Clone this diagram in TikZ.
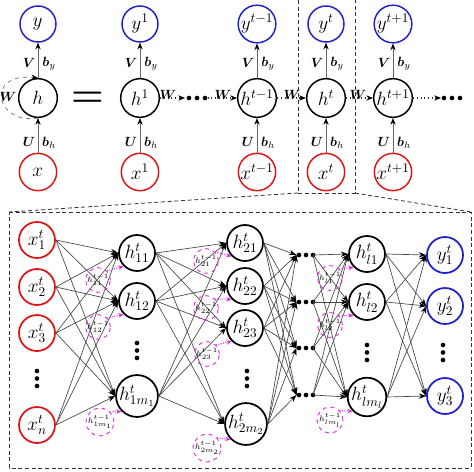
\documentclass[tikz,border=0pt]{standalone}
\usepackage{amsmath,amssymb}
\usetikzlibrary{arrows.meta}
\definecolor{myblue}{RGB}{30,30,210}
\definecolor{myred}{RGB}{225,20,20}
\definecolor{mymag}{RGB}{225,50,225}
\definecolor{lgray}{RGB}{70,70,70}
\tikzset{
 tnode/.style={circle,line width=1.1pt,minimum size=28pt,inner sep=0pt,font=\fontsize{14}{16}\selectfont},
 tblue/.style={tnode,draw=myblue,minimum size=27pt},
 tred/.style={tnode,draw=myred},
 tblack/.style={tnode,draw=black,minimum size=29pt},
 vup/.style={draw=gray!80!black,line width=0.6pt,-{Stealth[length=5pt,width=4pt,black]}},
 lab/.style={font=\fontsize{10}{12}\selectfont,inner sep=0pt},
 warr/.style={draw=black!80,dotted,line width=0.8pt,-{Stealth[length=5pt,width=4pt,black]}},
 bnode/.style={circle,line width=1.3pt,minimum size=27pt,inner sep=0pt,font=\fontsize{14}{16}\selectfont},
 bx/.style={bnode,draw=myred},
 bh/.style={bnode,draw=black},
 by/.style={bnode,draw=myblue},
 snode/.style={circle,draw=mymag,dashed,line width=0.7pt,minimum size=18pt,inner sep=0pt,font=\fontsize{6}{7}\selectfont},
 conn/.style={draw=lgray,line width=0.5pt,-{Stealth[length=5.5pt,width=4pt,black]}},
 marr/.style={draw=mymag,densely dotted,line width=0.8pt,-{Stealth[length=4pt,width=3.5pt]}},
 bigdot/.style={circle,fill=black,inner sep=0pt,minimum size=3.5pt},
 frame/.style={draw=black!80,densely dashed,line width=0.6pt},
}
\begin{document}
\begin{tikzpicture}[x=0.75pt,y=-0.75pt]
\useasboundingbox (0,0) rectangle (474,471);

% ---------- top part ----------
\foreach \i/\cx/\s in {0/38/{},1/140/1,2/257/{t-1},3/326/t,4/393/{t+1}}{
  \node[tblue] (ty\i) at (\cx,24) {$y^{\s}$};
  \node[tblack] (th\i) at (\cx,98) {$h^{\s}$};
  \node[tred] (tx\i) at (\cx,172) {$x^{\s}$};
  \draw[vup] (tx\i) -- (th\i);
  \draw[vup] (th\i) -- (ty\i);
  \node[lab] at (\cx-9,63) {$\boldsymbol{V}$};
  \node[lab] at (\cx+11,64) {$\boldsymbol{b}_y$};
  \node[lab] at (\cx-9,142) {$\boldsymbol{U}$};
  \node[lab] at (\cx+11,143) {$\boldsymbol{b}_h$};
}
% self loop
\draw[draw=gray,dashed,line width=0.6pt,-{Stealth[length=5pt,width=4pt,black]}]
  (th0.south) .. controls (-5,125) and (-15,72) .. (th0.north);
\node[lab] at (8,97) {$\boldsymbol{W}$};
% equals
\node[font=\fontsize{28}{28}\selectfont\bfseries,inner sep=0pt] (eq) at (88,99) {=};

% horizontal dotted arrows
\coordinate (ta) at (185,98);
\draw[warr] (th1.east) -- (ta);
\node[bigdot] (td1) at (189,98) {};
\node[bigdot] (td2) at (197,98) {};
\node[bigdot] (td3) at (205,98) {};
\draw[warr] (td3) -- (th2.west);
\draw[warr] (th2.east) -- (th3.west);
\draw[warr] (th3.east) -- (th4.west);
\coordinate (tb) at (441,98);
\draw[warr] (th4.east) -- (tb);
\node[bigdot] (te1) at (444,98) {};
\node[bigdot] (te2) at (452,98) {};
\node[bigdot] (te3) at (460,98) {};
\node[lab] at (168,95) {$\boldsymbol{W}$};
\node[lab] at (223,95) {$\boldsymbol{W}$};
\node[lab] at (292,95) {$\boldsymbol{W}$};
\node[lab] at (358,95) {$\boldsymbol{W}$};

% zoom frame
\coordinate (fa) at (298,0);
\coordinate (fb) at (298,193);
\coordinate (fc) at (355,193);
\coordinate (fd) at (355,0);
\coordinate (ga) at (9,212);
\coordinate (gb) at (471,212);
\coordinate (gc) at (471,468);
\coordinate (gd) at (9,468);
\draw[frame] (fa) -- (fb) -- (fc) -- (fd);
\draw[frame] (fb) -- (ga);
\draw[frame] (fc) -- (gb);
\draw[frame] (ga) -- (gb) -- (gc) -- (gd) -- cycle;

% ---------- bottom network ----------
% input layer
\node[bx] (x1) at (37,240) {$x_1^t$};
\node[bx] (x2) at (37,287) {$x_2^t$};
\node[bx] (x3) at (37,333) {$x_3^t$};
\node[bx] (xn) at (37,425) {$x_n^t$};
% hidden 1
\node[bh] (h11) at (137,253) {$h^t_{11}$};
\node[bh] (h12) at (137,301) {$h^t_{12}$};
\node[bh] (h1m) at (137,396) {$h^t_{1m_1}$};
% hidden 2
\node[bh] (h21) at (245,243) {$h^t_{21}$};
\node[bh] (h22) at (245,286) {$h^t_{22}$};
\node[bh] (h23) at (245,328) {$h^t_{23}$};
\node[bh] (h2m) at (246,424) {$h^t_{2m_2}$};
% hidden l
\node[bh] (hl1) at (367,254) {$h^t_{l1}$};
\node[bh] (hl2) at (367,302) {$h^t_{l2}$};
\node[bh] (hlm) at (367,397) {$h^t_{lm_l}$};
% output
\node[by] (y1) at (445,255) {$y_1^t$};
\node[by] (y2) at (445,306) {$y_2^t$};
\node[by] (y3) at (445,396) {$y_3^t$};

% middle dot rows
\foreach \r/\yy in {1/255,2/302,3/348,4/395}{
  \node[bigdot] (da\r) at (299,\yy) {};
  \node[bigdot] (db\r) at (306,\yy) {};
  \node[bigdot] (dc\r) at (313,\yy) {};
}
% vertical dots
\foreach \cx/\yy/\n in {37/371/a,137/343/b,247/371/c,367/345/d,443/345/e}{
  \node[bigdot] (v\n1) at (\cx,\yy) {};
  \node[bigdot] (v\n2) at (\cx,\yy+7.5) {};
  \node[bigdot] (v\n3) at (\cx,\yy+15) {};
}

% connections
\foreach \a in {x1,x2,x3,xn}{\foreach \b in {h11,h12,h1m}{\draw[conn] (\a.east) -- (\b.west);}}
\foreach \a in {h11,h12,h1m}{\foreach \b in {h21,h22,h23,h2m}{\draw[conn] (\a.east) -- (\b.west);}}
\foreach \a in {h21,h22,h23,h2m}{\foreach \b in {da1,da2,da3,da4}{\draw[conn] (\a.east) -- (\b.west);}}
\foreach \a in {dc1,dc2,dc3,dc4}{\foreach \b in {hl1,hl2,hlm}{\draw[conn] (\a.center) -- (\b.west);}}
\foreach \a in {hl1,hl2,hlm}{\foreach \b in {y1,y2,y3}{\draw[conn] (\a.east) -- (\b.west);}}

% previous-state nodes
\node[snode] (s11) at (98,280) {$h^{t-1}_{11}$};
\node[snode] (s12) at (98,327) {$h^{t-1}_{12}$};
\node[snode] (s1m) at (100,422) {$h^{t-1}_{1m_1}$};
\node[snode] (s21) at (206,261) {$h^{t-1}_{21}$};
\node[snode] (s22) at (206,308) {$h^{t-1}_{22}$};
\node[snode] (s23) at (207,354) {$h^{t-1}_{23}$};
\node[snode] (s2m) at (207,448) {$h^{t-1}_{2m_2}$};
\node[snode] (sl1) at (330,278) {$h^{t-1}_{l1}$};
\node[snode] (sl2) at (330,325) {$h^{t-1}_{l2}$};
\node[snode] (slm) at (330,420) {$h^{t-1}_{lm_l}$};
\foreach \s/\h in {s11/h11,s12/h12,s1m/h1m,s21/h21,s22/h22,s23/h23,s2m/h2m,sl1/hl1,sl2/hl2,slm/hlm}{
  \draw[marr] (\s.north east) -- (\h.south west);
}
\end{tikzpicture}
\end{document}
